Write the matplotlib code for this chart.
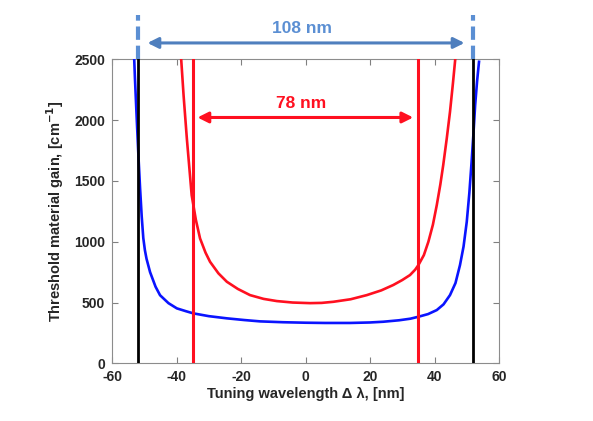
import numpy as np
import matplotlib
matplotlib.use("Agg")
import matplotlib.pyplot as plt

plt.rcParams['font.family'] = ['Liberation Sans', 'DejaVu Sans']
plt.rcParams['axes.unicode_minus'] = False

# curves
blue_x = [-53.4, -52.9, -52.3, -51.8, -51.3, -50.8, -50.3, -49.8, -49.3, -48.2,
          -46.5, -45.1, -42.5, -39.9, -37.0, -34.8, -30.0, -24.4, -19.0, -14.1,
          -7.0, 0.0, 6.0, 13.8, 20.0, 24.1, 29.0, 32.5, 35.0, 38.0,
          40.7, 42.8, 44.8, 46.5, 47.9, 49.0, 50.0, 50.8, 51.5, 52.1,
          52.6, 53.2, 53.8]
blue_y = [2700, 2350, 1990, 1700, 1440, 1210, 1030, 930, 860, 750,
          630, 560, 495, 452, 428, 411, 388, 370, 356, 345,
          338, 334, 332, 332, 336, 342, 354, 367, 383, 405,
          438, 485, 561, 660, 808, 960, 1164, 1400, 1657, 1900,
          2123, 2320, 2480]

red_x = [-39.0, -38.6, -37.8, -36.8, -35.3, -34.0, -32.7, -31.0, -29.6, -27.0,
         -24.4, -21.0, -17.2, -13.0, -8.9, -4.0, 1.4, 5.0, 8.6, 14.0,
         19.0, 23.5, 27.2, 30.0, 32.4, 34.0, 35.0, 36.7, 38.1, 39.5,
         40.7, 41.8, 42.7, 43.8, 44.8, 45.7, 46.4, 46.7]
red_y = [2700, 2520, 2200, 1850, 1383, 1180, 1027, 910, 835, 740,
         671, 612, 561, 530, 512, 500, 495, 497, 506, 527,
         561, 600, 644, 685, 726, 770, 808, 890, 1000, 1140,
         1301, 1470, 1630, 1850, 2068, 2300, 2493, 2600]

black_edges = [-52, 52]      # wide tuning limits
red_edges = [-35, 35]        # narrow tuning limits
wide_label = "108 nm"
narrow_label = "78 nm"

x_ticks = [-60, -40, -20, 0, 20, 40, 60]
y_ticks = [0, 500, 1000, 1500, 2000, 2500]

ink = '#262626'
light_blue = '#5B8FD3'
arrow_blue = '#4F7FBE'
red = '#FF1020'

fig = plt.figure(figsize=(5.93, 4.21), dpi=100)
ax = fig.add_axes([0.1889, 0.137, 0.6526, 0.722])

ax.plot(blue_x, blue_y, color='#0A14FF', lw=1.9, zorder=3)
ax.plot(red_x, red_y, color=red, lw=1.9, zorder=3)

for xe in black_edges:
    ax.plot([xe, xe], [0, 2500], color='black', lw=2.0, zorder=4)
    # dashed marker above the axes
    ax.plot([xe, xe], [2500, 2865], color=light_blue, lw=3.0,
            dashes=(3.2, 1.4), clip_on=False, zorder=5)
for xe in red_edges:
    ax.plot([xe, xe], [0, 2500], color=red, lw=2.2, zorder=4)

# arrows
ax.annotate('', xy=(black_edges[0] + 3.0, 2635), xytext=(black_edges[1] - 2.7, 2635),
            arrowprops=dict(arrowstyle='<|-|>', color=arrow_blue, lw=2.2,
                            mutation_scale=16, shrinkA=0, shrinkB=0),
            annotation_clip=False)
ax.text(-1.0, 2750, wide_label, color=light_blue, fontsize=12.5, fontweight='bold',
        ha='center', va='center', clip_on=False)

ax.annotate('', xy=(red_edges[0] + 1.5, 2022), xytext=(red_edges[1] - 1.6, 2022),
            arrowprops=dict(arrowstyle='<|-|>', color=red, lw=2.2,
                            mutation_scale=16, shrinkA=0, shrinkB=0))
ax.text(-1.5, 2135, narrow_label, color=red, fontsize=12.5, fontweight='bold',
        ha='center', va='center')

ax.set_xlim(-60, 60)
ax.set_ylim(0, 2500)
ax.set_xticks(x_ticks)
ax.set_yticks(y_ticks)
ax.tick_params(direction='in', top=True, right=True, length=4, width=0.8,
               color='#808080', labelsize=10, labelcolor=ink)
ax.tick_params(axis='x', pad=5)
ax.tick_params(axis='y', pad=5)
for lab in ax.get_xticklabels() + ax.get_yticklabels():
    lab.set_fontweight('bold')
for s in ax.spines.values():
    s.set_color('#8c8c8c')
    s.set_linewidth(0.8)

ax.set_xlabel('Tuning wavelength \u0394 \u03bb, [nm]', fontsize=10.5,
              fontweight='bold', color=ink, labelpad=2)
ax.set_ylabel(r'Threshold material gain, [cm$^{\mathbf{-1}}$]', fontsize=10.5,
              fontweight='bold', color=ink, labelpad=6)

fig.savefig('out.png', dpi=100)
